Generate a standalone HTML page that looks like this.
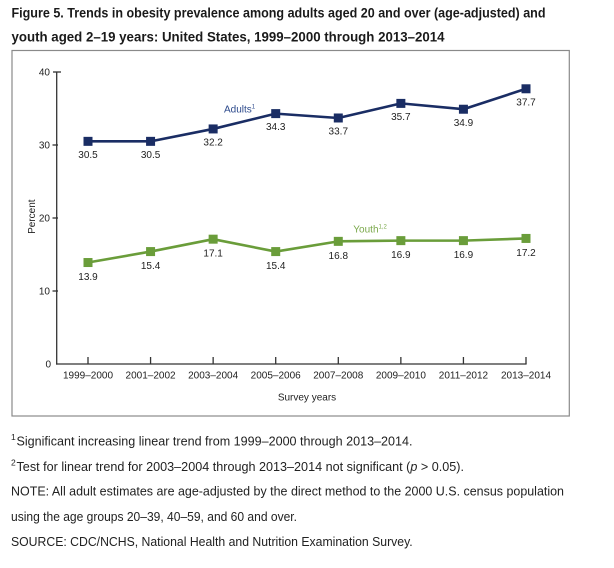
<!DOCTYPE html>
<html>
<head>
<meta charset="utf-8">
<style>
html,body{margin:0;padding:0;background:#fff;}
svg{display:block;}
</style>
</head>
<body>
<svg width="614" height="568" viewBox="0 0 614 568" xmlns="http://www.w3.org/2000/svg">
  <!-- Title -->
  <g font-family="'Liberation Sans', sans-serif" font-weight="bold" font-size="14" fill="#1a1a1a">
    <text x="11.5" y="17.5" textLength="534" lengthAdjust="spacingAndGlyphs">Figure 5. Trends in obesity prevalence among adults aged 20 and over (age-adjusted) and</text>
    <text x="11.5" y="41.5" textLength="433" lengthAdjust="spacingAndGlyphs">youth aged 2–19 years: United States, 1999–2000 through 2013–2014</text>
  </g>

  <!-- Chart box -->
  <rect x="12" y="50.5" width="557.3" height="365.5" fill="none" stroke="#8a8a8a" stroke-width="1.2"/>

  <!-- Axes -->
  <g stroke="#333" stroke-width="1.3" fill="none">
    <line x1="56.7" y1="72" x2="56.7" y2="364.6"/>
    <line x1="56.1" y1="364" x2="526.6" y2="364"/>
    <!-- y ticks -->
    <line x1="53" y1="72" x2="61" y2="72"/>
    <line x1="52.5" y1="145" x2="58" y2="145"/>
    <line x1="52.5" y1="218" x2="58" y2="218"/>
    <line x1="52.5" y1="291" x2="58" y2="291"/>
    <!-- x ticks -->
    <line x1="88" y1="357" x2="88" y2="364"/>
    <line x1="150.57" y1="357" x2="150.57" y2="364"/>
    <line x1="213.14" y1="357" x2="213.14" y2="364"/>
    <line x1="275.71" y1="357" x2="275.71" y2="364"/>
    <line x1="338.29" y1="357" x2="338.29" y2="364"/>
    <line x1="400.86" y1="357" x2="400.86" y2="364"/>
    <line x1="463.43" y1="357" x2="463.43" y2="364"/>
    <line x1="526" y1="357" x2="526" y2="364"/>
  </g>

  <g font-family="'Liberation Sans', sans-serif" font-size="10" fill="#222">
    <!-- y labels -->
    <text x="50" y="75.5" text-anchor="end">40</text>
    <text x="50" y="148.5" text-anchor="end">30</text>
    <text x="50" y="221.5" text-anchor="end">20</text>
    <text x="50" y="294.5" text-anchor="end">10</text>
    <text x="51" y="367.5" text-anchor="end">0</text>
    <text transform="translate(35.2,216.7) rotate(-90)" text-anchor="middle">Percent</text>

    <!-- x labels -->
    <g text-anchor="middle">
      <text x="88" y="378.5">1999–2000</text>
      <text x="150.57" y="378.5">2001–2002</text>
      <text x="213.14" y="378.5">2003–2004</text>
      <text x="275.71" y="378.5">2005–2006</text>
      <text x="338.29" y="378.5">2007–2008</text>
      <text x="400.86" y="378.5">2009–2010</text>
      <text x="463.43" y="378.5">2011–2012</text>
      <text x="526" y="378.5">2013–2014</text>
      <text x="307" y="400.3">Survey years</text>
    </g>
  </g>

  <!-- Adults series -->
  <polyline fill="none" stroke="#1a2d64" stroke-width="2.6" stroke-linejoin="round"
    points="88,141.35 150.57,141.35 213.14,128.94 275.71,113.61 338.29,117.99 400.86,103.39 463.43,109.23 526,88.79"/>
  <g fill="#1a2d64">
    <rect x="83.5" y="136.85" width="9" height="9"/>
    <rect x="146.07" y="136.85" width="9" height="9"/>
    <rect x="208.64" y="124.44" width="9" height="9"/>
    <rect x="271.21" y="109.11" width="9" height="9"/>
    <rect x="333.79" y="113.49" width="9" height="9"/>
    <rect x="396.36" y="98.89" width="9" height="9"/>
    <rect x="458.93" y="104.73" width="9" height="9"/>
    <rect x="521.5" y="84.29" width="9" height="9"/>
  </g>

  <!-- Youth series -->
  <polyline fill="none" stroke="#6a9d3a" stroke-width="2.6" stroke-linejoin="round"
    points="88,262.53 150.57,251.58 213.14,239.17 275.71,251.58 338.29,241.36 400.86,240.63 463.43,240.63 526,238.44"/>
  <g fill="#6a9d3a">
    <rect x="83.5" y="258.03" width="9" height="9"/>
    <rect x="146.07" y="247.08" width="9" height="9"/>
    <rect x="208.64" y="234.67" width="9" height="9"/>
    <rect x="271.21" y="247.08" width="9" height="9"/>
    <rect x="333.79" y="236.86" width="9" height="9"/>
    <rect x="396.36" y="236.13" width="9" height="9"/>
    <rect x="458.93" y="236.13" width="9" height="9"/>
    <rect x="521.5" y="233.94" width="9" height="9"/>
  </g>

  <!-- Data labels -->
  <g font-family="'Liberation Sans', sans-serif" font-size="10" fill="#222" text-anchor="middle">
    <text x="88" y="158">30.5</text>
    <text x="150.57" y="158">30.5</text>
    <text x="213.14" y="145.5">32.2</text>
    <text x="275.71" y="130.2">34.3</text>
    <text x="338.29" y="134.6">33.7</text>
    <text x="400.86" y="120">35.7</text>
    <text x="463.43" y="125.8">34.9</text>
    <text x="526" y="105.4">37.7</text>

    <text x="88" y="280">13.9</text>
    <text x="150.57" y="269.1">15.4</text>
    <text x="213.14" y="256.7">17.1</text>
    <text x="275.71" y="269.1">15.4</text>
    <text x="338.29" y="258.9">16.8</text>
    <text x="400.86" y="258.1">16.9</text>
    <text x="463.43" y="258.1">16.9</text>
    <text x="526" y="255.9">17.2</text>
  </g>

  <!-- Series labels -->
  <g font-family="'Liberation Sans', sans-serif" font-size="10">
    <text x="224" y="112.5" fill="#2d4a8c">Adults<tspan font-size="6" dy="-4">1</tspan></text>
    <text x="353.3" y="232.5" fill="#7aa84a">Youth<tspan font-size="6" dy="-4">1,2</tspan></text>
  </g>

  <!-- Footnotes -->
  <g font-family="'Liberation Sans', sans-serif" font-size="12.5" fill="#222">
    <text x="11" y="440" font-size="8.5">1</text>
    <text x="16.5" y="445.7" textLength="396" lengthAdjust="spacingAndGlyphs">Significant increasing linear trend from 1999–2000 through 2013–2014.</text>
    <text x="11" y="465.5" font-size="8.5">2</text>
    <text x="16.5" y="471" textLength="447.5" lengthAdjust="spacingAndGlyphs">Test for linear trend for 2003–2004 through 2013–2014 not significant (<tspan font-style="italic">p</tspan> &gt; 0.05).</text>
    <text x="11" y="495.7" textLength="553" lengthAdjust="spacingAndGlyphs">NOTE: All adult estimates are age-adjusted by the direct method to the 2000 U.S. census population</text>
    <text x="11" y="521" textLength="286" lengthAdjust="spacingAndGlyphs">using the age groups 20–39, 40–59, and 60 and over.</text>
    <text x="11" y="546" textLength="401.7" lengthAdjust="spacingAndGlyphs">SOURCE: CDC/NCHS, National Health and Nutrition Examination Survey.</text>
  </g>
</svg>
</body>
</html>
